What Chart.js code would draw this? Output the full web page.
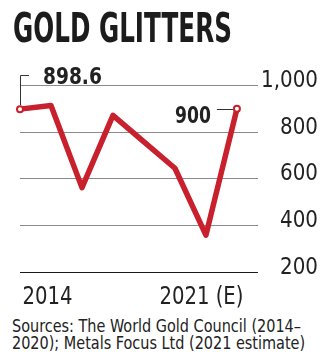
<!DOCTYPE html>
<html>
<head>
<meta charset="utf-8">
<script src="https://cdn.jsdelivr.net/npm/chart.js@4/dist/chart.umd.min.js"></script>
<style>
  body { margin: 0; background: #fff; }
  #wrap { position: relative; width: 333px; height: 361px; overflow: hidden; }
  #chart { position: absolute; left: 0; top: 0; }
  .squeeze { position: absolute; margin: 0; white-space: nowrap; transform-origin: 0 0; color: #222;
             font-family: "DejaVu Sans Condensed", "DejaVu Sans", sans-serif; }
  #title { left: 13px; top: 8px; font-weight: bold; font-size: 40px; line-height: 40px; color: #1c1c1c; }
  #source { left: 12px; top: 318px; font-size: 17px; line-height: 16.7px; }
</style>
</head>
<body>
<div id="wrap">
  <canvas id="chart" width="333" height="310"></canvas>
  <h1 id="title" class="squeeze" data-width="219">GOLD GLITTERS</h1>
  <p id="source" class="squeeze" data-width="293">Sources: The World Gold Council (2014–<br>2020); Metals Focus Ltd (2021 estimate)</p>
</div>
<script>
// Gold demand, tonnes
const years = [2014, 2015, 2016, 2017, 2018, 2019, 2020, 2021];
const demand = [898.6, 914, 562, 872, 758, 645, 358, 900];
const yTicks = [200, 400, 600, 800, 1000];
const xLabels = { 2014: "2014", 2021: "2021 (E)" };

const RED = "#c8202c";
const INK = "#222";
const FONT = "'DejaVu Sans Condensed', 'DejaVu Sans', sans-serif";

// the house font is narrower than anything installed, so text gets squeezed
document.querySelectorAll(".squeeze").forEach((el) => {
  const w = el.getBoundingClientRect().width;
  el.style.transform = "scaleX(" + (Number(el.dataset.width) / w).toFixed(3) + ")";
});

function squeezedText(ctx, text, x, y, align, sx) {
  ctx.save();
  ctx.translate(x, y);
  ctx.scale(sx, 1);
  ctx.textAlign = align;
  ctx.fillText(text, 0, 0);
  ctx.restore();
}

// axis labels, drawn narrow at the scales' own tick positions
const axisLabels = {
  id: "axisLabels",
  afterDraw(chart) {
    const { ctx, scales: { x, y } } = chart;
    ctx.save();
    ctx.fillStyle = INK;
    ctx.textBaseline = "alphabetic";
    ctx.font = "23.5px " + FONT;
    y.ticks.forEach((t) => {
      squeezedText(ctx, t.value.toLocaleString("en-US"), 318, y.getPixelForValue(t.value) + 1.5, "right", 0.94);
    });
    ctx.font = "24.7px " + FONT;
    x.ticks.forEach((t, i) => {
      const px = x.getPixelForValue(t.value);
      if (i === 0) squeezedText(ctx, xLabels[t.value], px + 2.5, 303.5, "left", 0.885);
      else squeezedText(ctx, xLabels[t.value], px + 6.5, 303.5, "right", 0.885);
    });
    ctx.restore();
  }
};

// value callouts for first and last point
const callouts = {
  id: "callouts",
  afterDatasetsDraw(chart) {
    const { ctx, scales: { x, y } } = chart;
    const n = years.length - 1;
    const fx = x.getPixelForValue(years[0]), fy = y.getPixelForValue(demand[0]);
    const lx = x.getPixelForValue(years[n]), ly = y.getPixelForValue(demand[n]);
    ctx.save();
    ctx.strokeStyle = "#333";
    ctx.lineWidth = 1;
    ctx.beginPath();
    ctx.moveTo(Math.round(fx) + 0.5, fy - 4);
    ctx.lineTo(Math.round(fx) + 0.5, 75.5);
    ctx.lineTo(fx + 9, 75.5);
    ctx.moveTo(lx - 4, Math.round(ly) + 0.5);
    ctx.lineTo(lx - 20, Math.round(ly) + 0.5);
    ctx.stroke();
    ctx.fillStyle = INK;
    ctx.font = "bold 22.5px " + FONT;
    ctx.textBaseline = "alphabetic";
    squeezedText(ctx, String(demand[0]), fx + 23, 83.5, "left", 0.92);
    squeezedText(ctx, String(demand[n]), lx - 26, 122.5, "right", 0.85);
    ctx.restore();
  }
};

new Chart(document.getElementById("chart"), {
  type: "line",
  data: {
    datasets: [{
      data: years.map((yr, i) => ({ x: yr, y: demand[i] })),
      borderColor: RED,
      borderWidth: 5.5,
      borderJoinStyle: "round",
      tension: 0,
      clip: false,
      pointRadius: years.map((_, i) => (i === 0 || i === years.length - 1 ? 3 : 0)),
      pointBackgroundColor: "#fff",
      pointBorderColor: RED,
      pointBorderWidth: 2
    }]
  },
  options: {
    responsive: false,
    animation: false,
    layout: { padding: { left: 20, top: 85.5, right: 0, bottom: 0 } },
    plugins: { legend: { display: false }, tooltip: { enabled: false } },
    scales: {
      x: {
        type: "linear",
        min: 2014,
        max: 2021.68,
        afterBuildTicks: (s) => { s.ticks = years.filter((v) => xLabels[v]).map((v) => ({ value: v })); },
        afterFit: (s) => { s.height = 38; },
        grid: { display: false },
        border: { display: false },
        ticks: { display: false }
      },
      y: {
        position: "right",
        min: 200,
        max: 1000,
        afterBuildTicks: (s) => { s.ticks = yTicks.map((v) => ({ value: v })); },
        afterFit: (s) => { s.width = 75; },
        grid: {
          drawTicks: false,
          lineWidth: 1,
          color: (c) => (c.tick && c.tick.value === 200 ? "#1a1a1a" : "#8a8a8a")
        },
        border: { display: false },
        ticks: { display: false }
      }
    }
  },
  plugins: [callouts, axisLabels]
});
</script>
</body>
</html>
